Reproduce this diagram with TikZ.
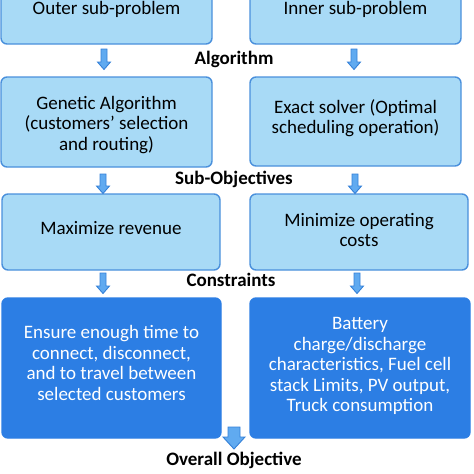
\documentclass[tikz,border=0pt]{standalone}
\usepackage{fontspec}
\setmainfont{Carlito}
\definecolor{lightfill}{RGB}{168,218,246}
\definecolor{lightborder}{RGB}{74,144,220}
\definecolor{darkfill}{RGB}{44,126,228}
\definecolor{arrowfill}{RGB}{96,170,240}
\definecolor{arrowborder}{RGB}{52,128,216}
\tikzset{
  lightbox/.style={draw=lightborder, line width=1.4pt, fill=lightfill, rounded corners=6pt},
  darkbox/.style={draw=darkfill, line width=1.4pt, fill=darkfill, rounded corners=6pt},
  boxtext/.style={font=\fontsize{19}{20.5}\selectfont, text=black, align=center, inner sep=0pt},
  darktext/.style={boxtext, text=white},
  lbl/.style={font=\fontsize{19}{20.5}\selectfont\bfseries, text=black},
  arrowshape/.style={draw=arrowborder, fill=arrowfill, line width=0.9pt, line join=miter}
}
% #1 start coordinate (top centre), #2 half shaft, #3 half head, #4 shaft length, #5 head length
\newcommand{\blockarrowdraw}[5]{%
  \draw[arrowshape] (#1) ++(-#2,0) -- ++(0,#4) -- ++({-(#3-#2)},0) -- ++(#3,#5)
    -- ++(#3,-#5) -- ++({-(#3-#2)},0) -- ++(0,-#4) -- cycle;}
\begin{document}
\begin{tikzpicture}[x=1pt,y=-1pt]
\useasboundingbox (0,0) rectangle (474,474);
% boxes
\node[lightbox, minimum width=211pt, minimum height=74pt] (outer) at (106.5,7) {};
\node[lightbox, minimum width=211pt, minimum height=74pt] (inner) at (355.5,7) {};
\node[lightbox, minimum width=211pt, minimum height=90pt] (ga) at (106.5,122) {};
\node[lightbox, minimum width=211pt, minimum height=89pt] (exact) at (355.5,121.5) {};
\node[lightbox, minimum width=218pt, minimum height=76pt] (maxr) at (111,232) {};
\node[lightbox, minimum width=218pt, minimum height=76pt] (minc) at (359,232) {};
\node[darkbox, minimum width=219pt, minimum height=140pt] (ensure) at (111.5,368) {};
\node[darkbox, minimum width=220pt, minimum height=140pt] (battery) at (360,368) {};

% box texts
\node[boxtext] (outert) at (106.5,9) {Outer sub-problem};
\node[boxtext] (innert) at (355.5,9) {Inner sub-problem};
\node[boxtext] (gat) at (106.5,125) {Genetic Algorithm\\(customers’ selection\\and routing)};
\node[boxtext] (exactt) at (355.5,118) {Exact solver (Optimal\\scheduling operation)};
\node[boxtext] (maxrt) at (111,228) {Maximize revenue};
\node[boxtext] (minct) at (359,230) {Minimize operating\\costs};
\node[darktext] (ensuret) at (111.5,363) {Ensure enough time to\\connect, disconnect,\\and to travel between\\selected customers};
\node[darktext] (batteryt) at (360,366) {Battery\\charge/discharge\\characteristics, Fuel cell\\stack Limits, PV output,\\Truck consumption};

% labels
\node[lbl] (lalg) at (234,59) {Algorithm};
\node[lbl] (lsub) at (234,179) {Sub-Objectives};
\node[lbl] (lcon) at (231,280) {Constraints};
\node[lbl] (lover) at (234,460) {Overall Objective};

% block arrows (top-centre coordinates)
\coordinate (a1) at (104,49);
\coordinate (a2) at (354,49);
\coordinate (a3) at (103,174);
\coordinate (a4) at (355,174);
\coordinate (a5) at (103,273);
\coordinate (a6) at (357,273);
\coordinate (a7) at (234,427);
\blockarrowdraw{a1}{3}{6.5}{13}{7.5}
\blockarrowdraw{a2}{3}{6.5}{13}{7.5}
\blockarrowdraw{a3}{3}{6.5}{12}{7.5}
\blockarrowdraw{a4}{3}{6.5}{12}{7.5}
\blockarrowdraw{a5}{3}{6.5}{13}{7.5}
\blockarrowdraw{a6}{3}{6.5}{13}{7.5}
\blockarrowdraw{a7}{6}{11}{10}{12}
\end{tikzpicture}
\end{document}
